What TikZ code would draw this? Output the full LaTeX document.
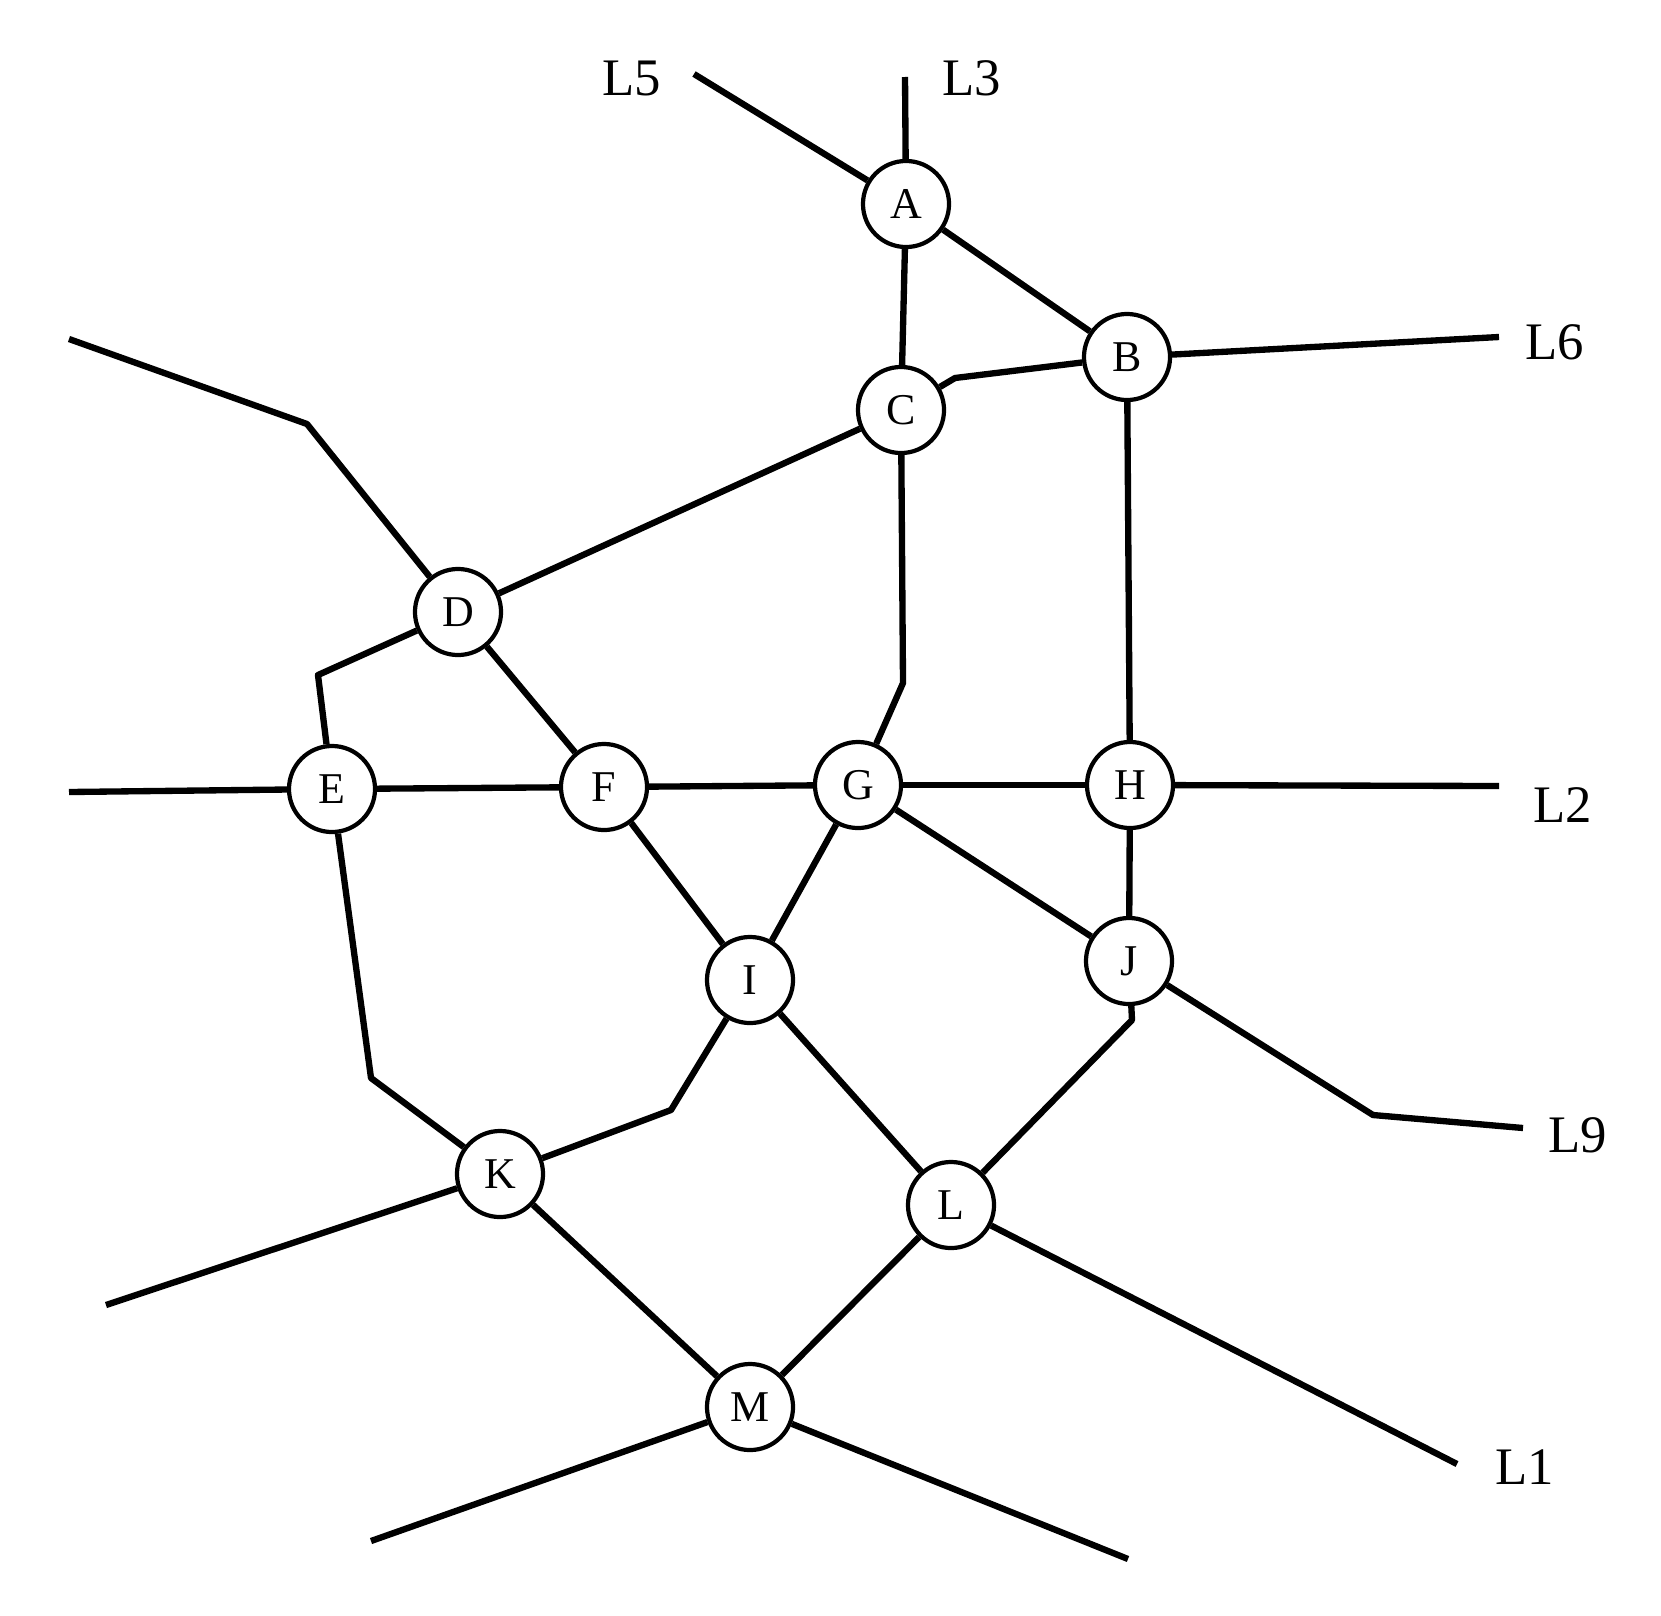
\documentclass[tikz,border=0pt]{standalone}
\usepackage{fontspec}
\setmainfont{Liberation Serif}
\begin{document}
\begin{tikzpicture}[x=0.01cm, y=-0.01cm, line width=1.8pt, line join=round, inner sep=0pt]
            \useasboundingbox (0,0) rectangle (1661,1615);

            \tikzstyle{myCir}=[circle, draw, fill=white, line width=1.2pt, minimum size=0.86cm, font=\fontsize{12.5}{15}\selectfont];
            \tikzstyle{myLab}=[font=\fontsize{15}{18}\selectfont];

            % free ends and bends
            \coordinate (l5) at (694,74);
            \coordinate (l3) at (905,77);
            \coordinate (l6) at (1499,337);
            \coordinate (l2) at (1499,786);
            \coordinate (l9) at (1523,1128);
            \coordinate (l1) at (1457,1464);
            \coordinate (cb) at (955,378);
            \coordinate (cg) at (903,683);
            \coordinate (dtop) at (307,424);
            \coordinate (dout) at (69,339);
            \coordinate (de) at (318,675);
            \coordinate (eout) at (69,792);
            \coordinate (ek) at (371,1078);
            \coordinate (ik) at (671,1110);
            \coordinate (jl) at (1132,1020);
            \coordinate (j9) at (1373,1115);
            \coordinate (kout) at (106,1305);
            \coordinate (mlout) at (371,1541);
            \coordinate (mrout) at (1128,1559);

            \node[myCir] (A) at (906,204) {A};
            \node[myCir] (B) at (1127,357) {B} edge (A);
            \node[myCir] (C) at (901,410) {C} edge (A);
            \node[myCir] (D) at (458,612) {D} edge (C);
            \node[myCir] (E) at (332,789) {E};
            \node[myCir] (F) at (604,787) {F} edge (E) edge (D);
            \node[myCir] (G) at (858,785) {G} edge (F);
            \node[myCir] (H) at (1130,785) {H} edge (G) edge (B);
            \node[myCir] (I) at (750,980) {I} edge (F) edge (G);
            \node[myCir] (J) at (1129,961) {J} edge (G) edge (H);
            \node[myCir] (K) at (500,1174) {K};
            \node[myCir] (L) at (951,1205) {L} edge (I);
            \node[myCir] (M) at (750,1407) {M} edge (K) edge (L);

            \draw (l5) -- (A);
            \draw (l3) -- (A);
            \draw (C) -- (cb) -- (B);
            \draw (B) -- (l6);
            \draw (C) -- (cg) -- (G);
            \draw (dout) -- (dtop) -- (D);
            \draw (D) -- (de) -- (E);
            \draw (eout) -- (E);
            \draw (E) -- (ek) -- (K);
            \draw (H) -- (l2);
            \draw (I) -- (ik) -- (K);
            \draw (J) -- (jl) -- (L);
            \draw (J) -- (j9) -- (l9);
            \draw (kout) -- (K);
            \draw (L) -- (l1);
            \draw (mlout) -- (M);
            \draw (M) -- (mrout);

            \node[myLab] (nL5) at (632,78) {L5};
            \node[myLab] (nL3) at (972,78) {L3};
            \node[myLab] (nL6) at (1555,342) {L6};
            \node[myLab] (nL2) at (1563,805) {L2};
            \node[myLab] (nL9) at (1578,1135) {L9};
            \node[myLab] (nL1) at (1525,1467) {L1};
         \end{tikzpicture}
\end{document}
